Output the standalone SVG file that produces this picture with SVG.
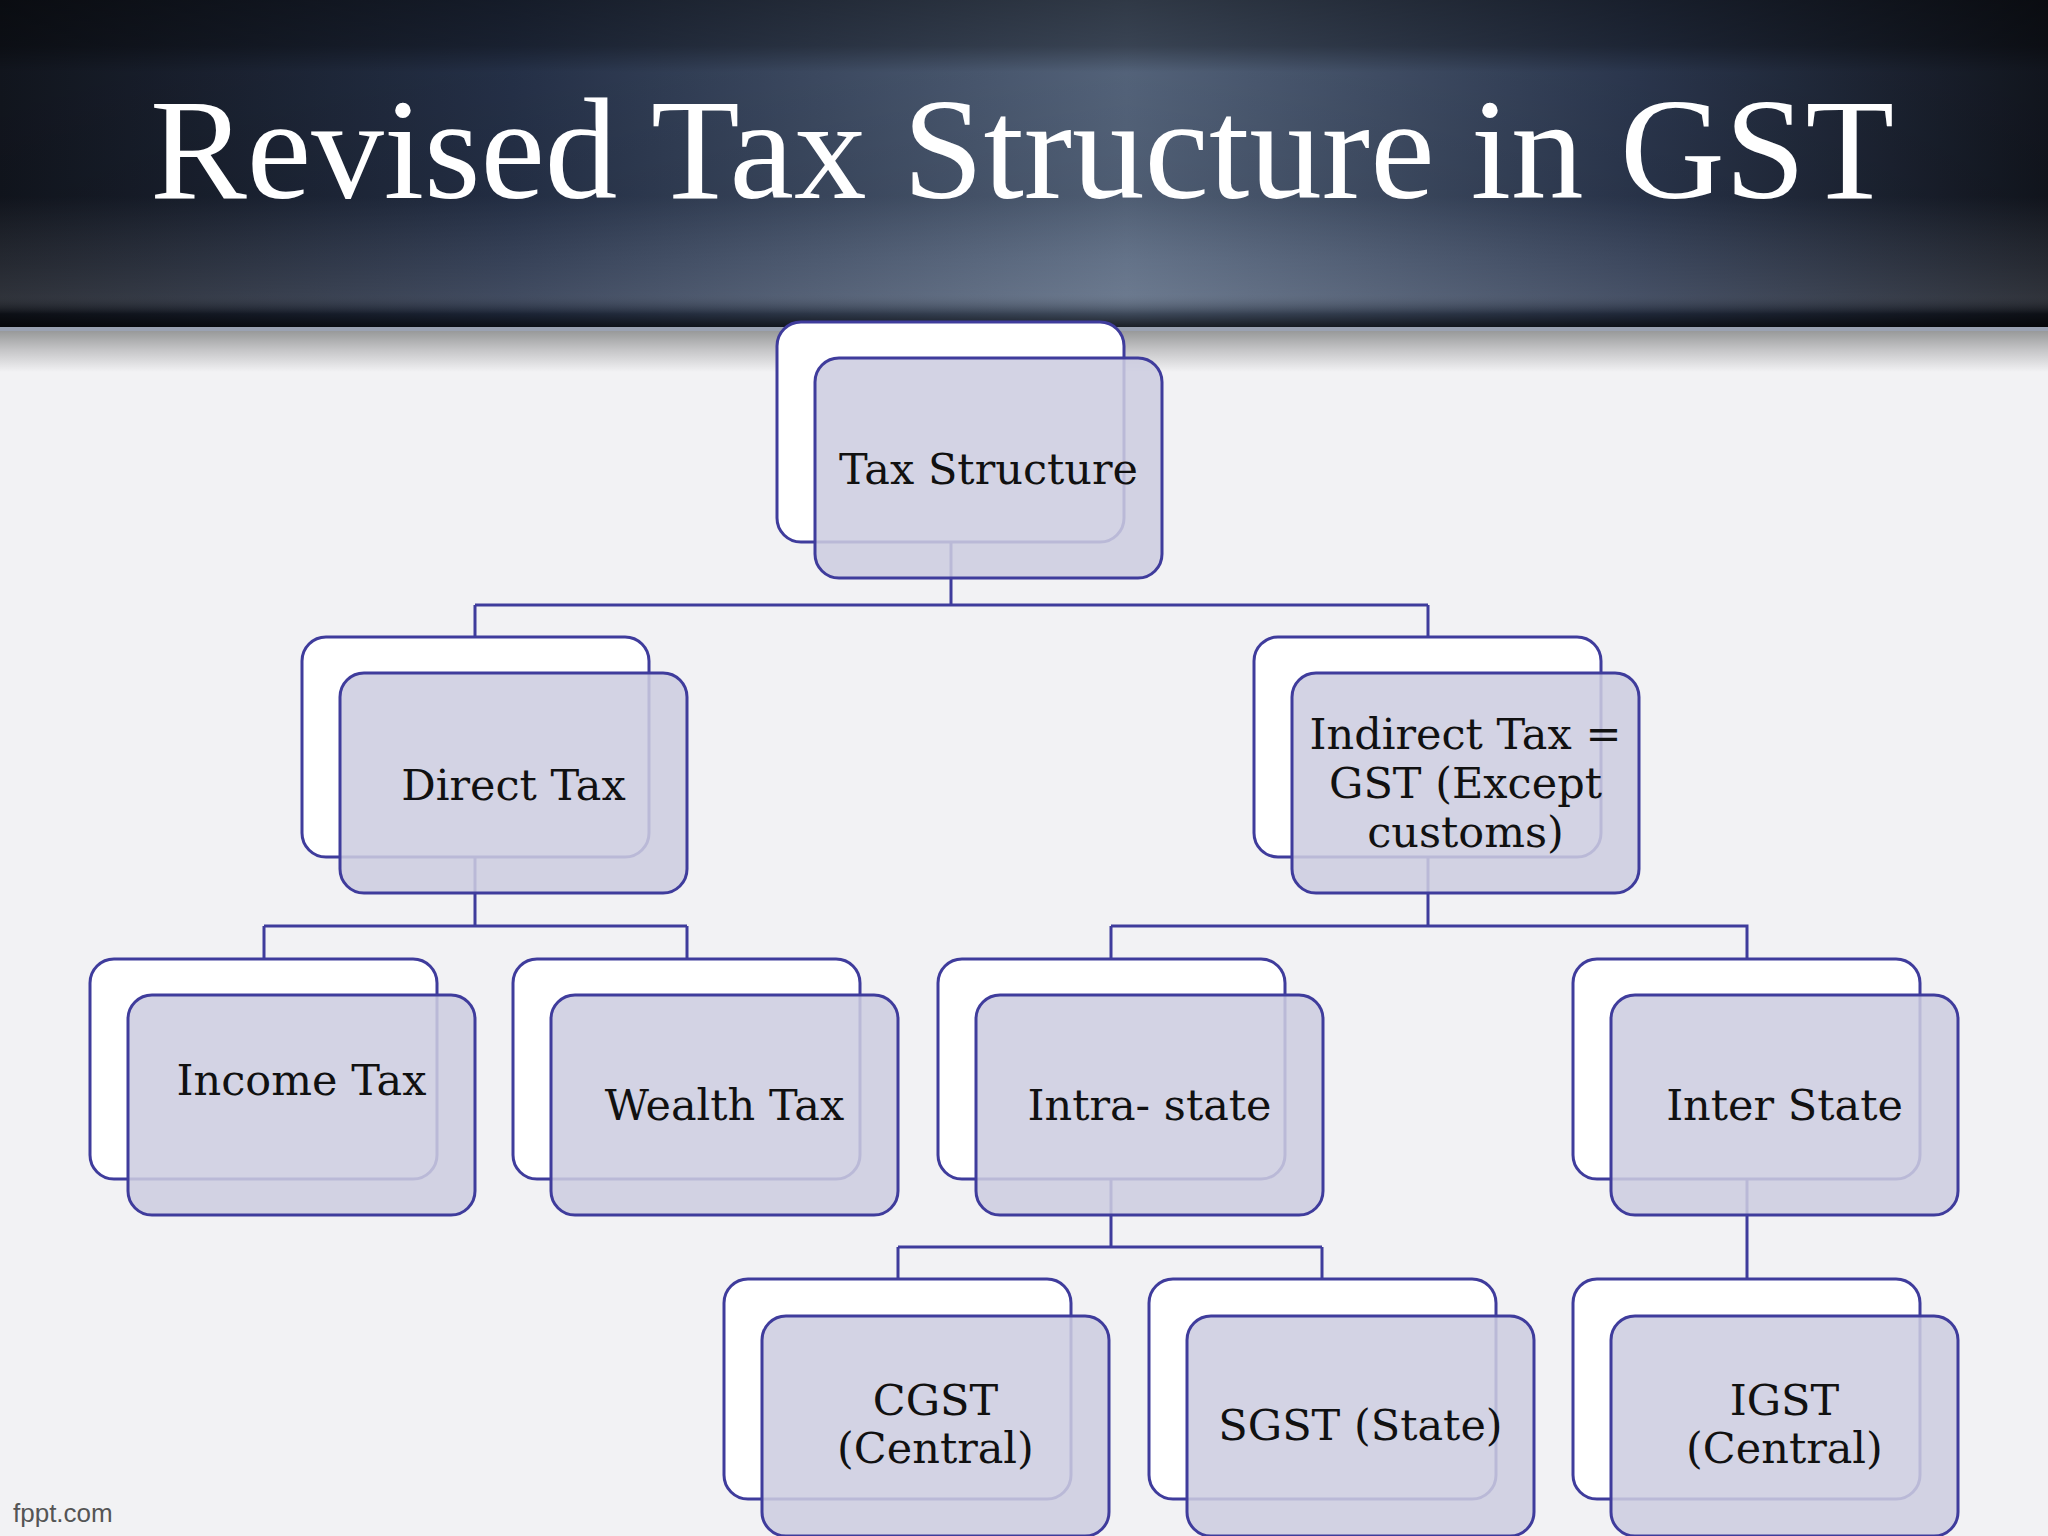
<svg xmlns="http://www.w3.org/2000/svg" width="2048" height="1536" viewBox="0 0 2048 1536">
<defs>
<linearGradient id="hband" x1="0" y1="0" x2="1" y2="0">
<stop offset="0" stop-color="#12161f"/>
<stop offset="0.25" stop-color="#26324a"/>
<stop offset="0.55" stop-color="#57677f"/>
<stop offset="0.8" stop-color="#2c3850"/>
<stop offset="1" stop-color="#12161f"/>
</linearGradient>
<linearGradient id="vband" x1="0" y1="0" x2="0" y2="1">
<stop offset="0" stop-color="#000" stop-opacity="0.45"/>
<stop offset="0.14" stop-color="#000" stop-opacity="0.35"/>
<stop offset="0.22" stop-color="#000" stop-opacity="0.05"/>
<stop offset="0.6" stop-color="#000" stop-opacity="0.1"/>
<stop offset="0.8" stop-color="#fff" stop-opacity="0.08"/>
<stop offset="0.9" stop-color="#fff" stop-opacity="0.12"/>
<stop offset="0.96" stop-color="#000" stop-opacity="0.3"/>
<stop offset="1" stop-color="#000" stop-opacity="0.7"/>
</linearGradient>
<linearGradient id="shadow" x1="0" y1="0" x2="0" y2="1">
<stop offset="0" stop-color="#8e9090"/>
<stop offset="0.5" stop-color="#c4c4c6"/>
<stop offset="1" stop-color="#f2f2f4"/>
</linearGradient>
<style>
.back{fill:#ffffff;stroke:#3f3c9c;stroke-width:3}
.front{fill:#cdcde0;fill-opacity:0.87;stroke:#3f3c9c;stroke-width:3}
.lbl{font-family:"DejaVu Serif","Liberation Serif",serif;font-size:43px;fill:#111;text-anchor:middle}
.conn{fill:none;stroke:#3f3c9c;stroke-width:3}
</style>
</defs>
<rect x="0" y="0" width="2048" height="1536" fill="#f2f2f4"/>
<rect x="0" y="327" width="2048" height="45" fill="url(#shadow)"/>
<rect x="0" y="0" width="2048" height="327" fill="url(#hband)"/>
<rect x="0" y="0" width="2048" height="327" fill="url(#vband)"/>
<rect x="0" y="327" width="2048" height="4" fill="#9aa2b2"/>
<text x="1022" y="198" font-family="Liberation Serif, serif" font-size="145" fill="#ffffff" text-anchor="middle" textLength="1744" lengthAdjust="spacingAndGlyphs">Revised Tax Structure in GST</text>
<text x="13" y="1522" font-family="Liberation Sans, Arial, sans-serif" font-size="26" fill="#555555">fppt.com</text>

<g id="connectors">
<path class="conn" d="M951 542 V605 M475 605 H1428 M475 605 V637 M1428 605 V637"/>
<path class="conn" d="M475 857 V926 M264 926 H687 M264 926 V959 M687 926 V959"/>
<path class="conn" d="M1428 857 V926 M1111 926 H1747 V959 M1111 926 V959"/>
<path class="conn" d="M1111 1179 V1247 M898 1247 H1322 M898 1247 V1279 M1322 1247 V1279"/>
<path class="conn" d="M1747 1179 V1279"/>
</g>

<g id="node-tax-structure">
<rect class="back" x="777" y="322" width="347" height="220" rx="24"/>
<rect class="front" x="815" y="358" width="347" height="220" rx="24"/>
<text class="lbl" x="988.5" y="484">Tax Structure</text>
</g>
<g id="node-direct-tax">
<rect class="back" x="302" y="637" width="347" height="220" rx="24"/>
<rect class="front" x="340" y="673" width="347" height="220" rx="24"/>
<text class="lbl" x="513.5" y="800">Direct Tax</text>
</g>
<g id="node-indirect-tax">
<rect class="back" x="1254" y="637" width="347" height="220" rx="24"/>
<rect class="front" x="1292" y="673" width="347" height="220" rx="24"/>
<text class="lbl" x="1465.5" y="749">Indirect Tax =</text>
<text class="lbl" x="1465.5" y="798">GST (Except</text>
<text class="lbl" x="1465.5" y="847">customs)</text>
</g>
<g id="node-income-tax">
<rect class="back" x="90" y="959" width="347" height="220" rx="24"/>
<rect class="front" x="128" y="995" width="347" height="220" rx="24"/>
<text class="lbl" x="301.5" y="1095">Income Tax</text>
</g>
<g id="node-wealth-tax">
<rect class="back" x="513" y="959" width="347" height="220" rx="24"/>
<rect class="front" x="551" y="995" width="347" height="220" rx="24"/>
<text class="lbl" x="724.5" y="1120">Wealth Tax</text>
</g>
<g id="node-intra-state">
<rect class="back" x="938" y="959" width="347" height="220" rx="24"/>
<rect class="front" x="976" y="995" width="347" height="220" rx="24"/>
<text class="lbl" x="1149.5" y="1120">Intra- state</text>
</g>
<g id="node-inter-state">
<rect class="back" x="1573" y="959" width="347" height="220" rx="24"/>
<rect class="front" x="1611" y="995" width="347" height="220" rx="24"/>
<text class="lbl" x="1784.5" y="1120">Inter State</text>
</g>
<g id="node-cgst">
<rect class="back" x="724" y="1279" width="347" height="220" rx="24"/>
<rect class="front" x="762" y="1316" width="347" height="220" rx="24"/>
<text class="lbl" x="935.5" y="1415">CGST</text>
<text class="lbl" x="935.5" y="1463">(Central)</text>
</g>
<g id="node-sgst">
<rect class="back" x="1149" y="1279" width="347" height="220" rx="24"/>
<rect class="front" x="1187" y="1316" width="347" height="220" rx="24"/>
<text class="lbl" x="1360.5" y="1440">SGST (State)</text>
</g>
<g id="node-igst">
<rect class="back" x="1573" y="1279" width="347" height="220" rx="24"/>
<rect class="front" x="1611" y="1316" width="347" height="220" rx="24"/>
<text class="lbl" x="1784.5" y="1415">IGST</text>
<text class="lbl" x="1784.5" y="1463">(Central)</text>
</g>
</svg>
